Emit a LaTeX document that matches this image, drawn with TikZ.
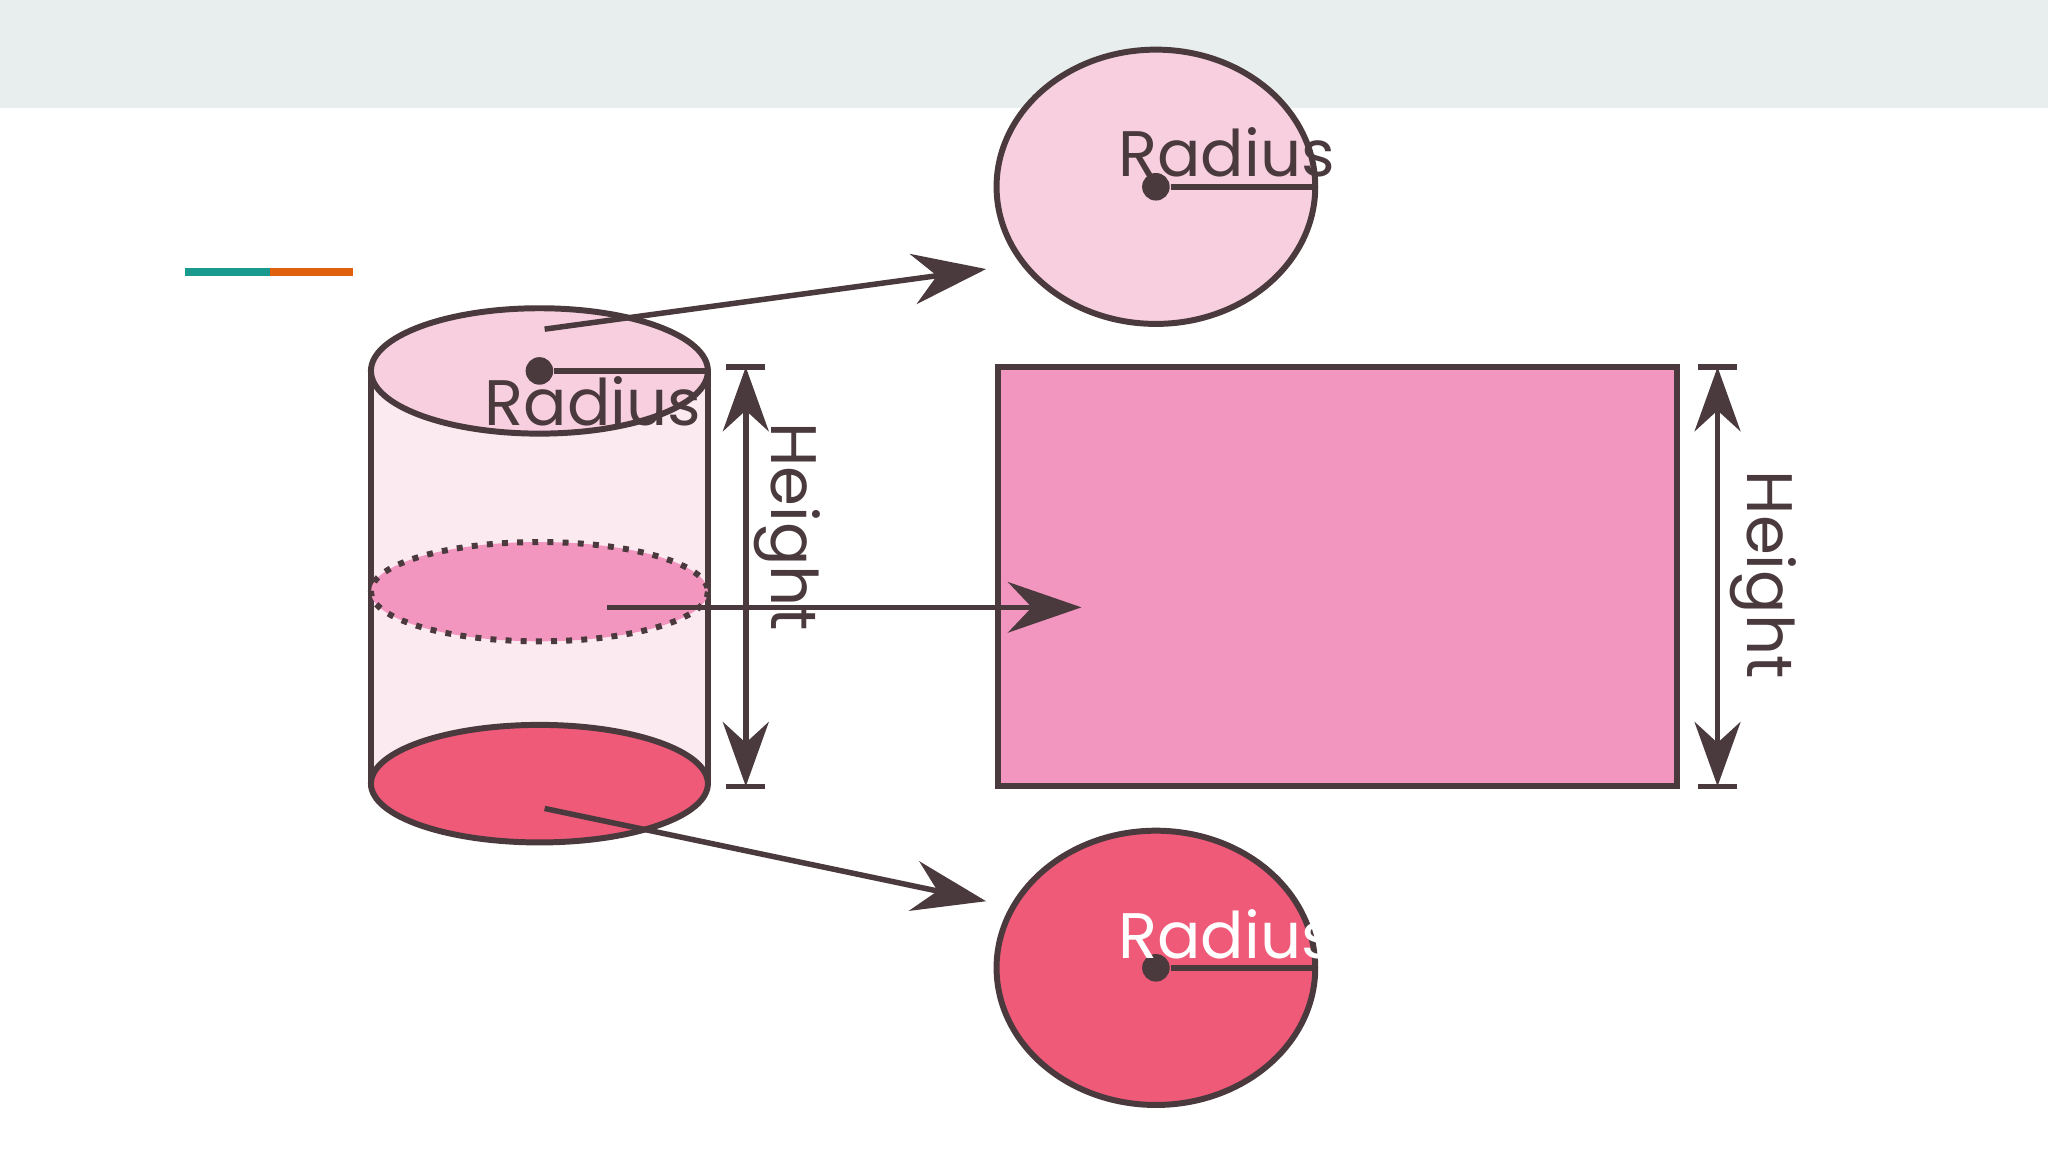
\documentclass[tikz,border=0pt]{standalone}
\usepackage{fontspec}
\setmainfont{Poppins}
\usetikzlibrary{arrows.meta}
\definecolor{outl}{HTML}{4A3A3E}
\definecolor{bandc}{HTML}{E8EDED}
\definecolor{lpink}{HTML}{F7CFDF}
\definecolor{bodyc}{HTML}{FBEAF0}
\definecolor{mpink}{HTML}{F396BF}
\definecolor{dpink}{HTML}{EE5A78}
\definecolor{tealc}{HTML}{1A9A8E}
\definecolor{orng}{HTML}{E0620F}
\tikzset{
  outline/.style={draw=outl, line width=1.3pt},
  arr/.style={draw=outl, line width=1.2pt, -{Stealth[length=16pt,width=11pt]}},
  dim/.style={draw=outl, line width=1.2pt, {Stealth[length=14pt,width=10pt]}-{Stealth[length=14pt,width=10pt]}},
  tickline/.style={draw=outl, line width=1.2pt},
  lbl/.style={font=\fontsize{14}{16}\selectfont, text=outl},
  dot/.style={circle, fill=outl, inner sep=0pt, minimum size=6pt}
}
\begin{document}
\begin{tikzpicture}[x=0.01cm,y=-0.01cm]
\useasboundingbox (0,0) rectangle (1568,882);
\fill[bandc] (0,0) rectangle (1568,83);
\fill[tealc] (142,205) rectangle (207,211);
\fill[orng] (207,205) rectangle (270,211);
% cylinder
\fill[bodyc] (284,284) -- (284,600) arc[start angle=180,end angle=360,x radius=129,y radius=45] -- (542,284) -- cycle;
\draw[outline] (284,284) -- (284,600);
\draw[outline] (542,284) -- (542,600);
\draw[outline, fill=dpink] (413,600) ellipse[x radius=129,y radius=45];
\draw[draw=outl, line width=1.3pt, dotted, fill=mpink] (413,453) ellipse[x radius=129,y radius=38];
\draw[outline, fill=lpink] (413,284) ellipse[x radius=129,y radius=48];
\node[dot] (c1) at (413,284) {};
\coordinate (c1r) at (542,284);
\draw[outline] (c1) -- (c1r);
\node[lbl] (t1) at (454,307) {Radius};
% height 1
\coordinate (h1a) at (571,281); \coordinate (h1b) at (571,602);
\draw[tickline] (556,281) -- (586,281);
\draw[tickline] (556,602) -- (586,602);
\draw[dim] (h1a) -- (h1b);
\node[lbl, rotate=-90] (ht1) at (603,403) {Height};
% top circle
\draw[outline, fill=lpink] (885,143) ellipse[x radius=122,y radius=105];
\node[dot] (c2) at (885,143) {};
\coordinate (c2r) at (1006,143);
\draw[outline] (c2) -- (c2r);
\node[lbl] (t2) at (939,117) {Radius};
% rectangle
\draw[outline, fill=mpink] (764,281) rectangle (1284,602);
\coordinate (h2a) at (1315,281); \coordinate (h2b) at (1315,602);
\draw[tickline] (1300,281) -- (1330,281);
\draw[tickline] (1300,602) -- (1330,602);
\draw[dim] (h2a) -- (h2b);
\node[lbl, rotate=-90] (ht2) at (1350,440) {Height};
% bottom circle
\draw[outline, fill=dpink] (885,741) ellipse[x radius=122,y radius=105];
\node[dot] (c3) at (885,741) {};
\coordinate (c3r) at (1006,741);
\draw[outline] (c3) -- (c3r);
\node[lbl, text=white] (t3) at (939,715) {Radius};
% arrows
\coordinate (a1s) at (417,252); \coordinate (a1e) at (755,206);
\draw[arr] (a1s) -- (a1e);
\coordinate (a2s) at (465,465); \coordinate (a2e) at (828,465);
\draw[arr] (a2s) -- (a2e);
\coordinate (a3s) at (417,619); \coordinate (a3e) at (755,690);
\draw[arr] (a3s) -- (a3e);
\end{tikzpicture}
\end{document}
